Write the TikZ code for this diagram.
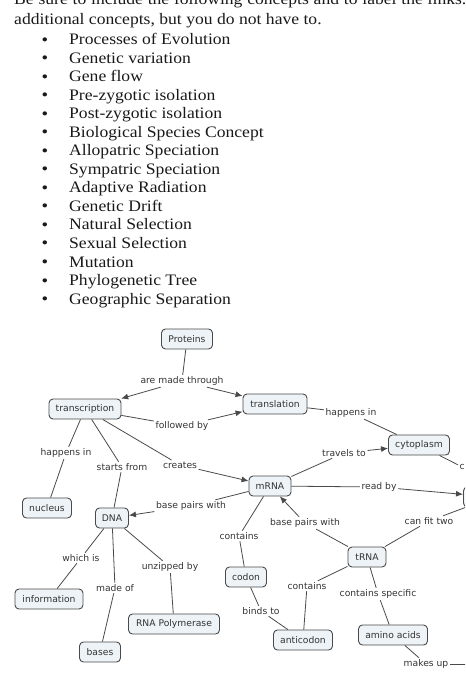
\documentclass[tikz,border=0pt]{standalone}
\usepackage{fontspec}
\setmainfont[FakeStretch=1.1]{Liberation Serif}
\newfontfamily\mapfont{DejaVu Sans}
\usetikzlibrary{arrows.meta}

\definecolor{conceptfill}{HTML}{EDF3F7}
\definecolor{linkgray}{HTML}{4A4A4A}

\begin{document}
\begin{tikzpicture}[x=1pt, y=-1pt,
    concept/.style={draw=linkgray, fill=conceptfill, rounded corners=4pt, line width=0.9pt, inner sep=0pt, minimum height=20pt, font=\mapfont\fontsize{9.2}{11}\selectfont, text=black!80},
    linklabel/.style={inner sep=1.5pt, font=\mapfont\fontsize{9.2}{11}\selectfont, text=black!80},
    link/.style={draw=linkgray, line width=0.8pt},
    arrow/.style={link, -{Latex[length=7pt, width=6pt]}},
    listtext/.style={anchor=base west, inner sep=0pt, font=\fontsize{16}{19}\selectfont, text=black!90}
]
    \useasboundingbox (0,0) rectangle (465,700);
    \clip (0,0) rectangle (465,700);

    % Assignment text
    \node[listtext] (intro) at (14,5) {\spaceskip=4.8pt\relax Be sure to include the following concepts and to label the links.};
    \node[listtext] (introb) at (14,25) {additional concepts, but you do not have to.};
    \foreach \entry [count=\i] in {Processes of Evolution, Genetic variation, Gene flow,
        Pre-zygotic isolation, Post-zygotic isolation, Biological Species Concept,
        Allopatric Speciation, Sympatric Speciation, Adaptive Radiation, Genetic Drift,
        Natural Selection, Sexual Selection, Mutation, Phylogenetic Tree, Geographic Separation} {
        \node[listtext, font=\fontsize{17}{17}\selectfont] (bullet\i) at (41.5,27+18.5*\i) {•};
        \node[listtext] (item\i) at (69,26.5+18.5*\i) {\entry};
    }

    % Concepts
    \node[concept, minimum width=51pt] (proteins) at (187,339) {Proteins};
    \node[concept, minimum width=72pt] (transcription) at (85,409) {transcription};
    \node[concept, minimum width=64pt] (translation) at (275,404) {translation};
    \node[concept, minimum width=61pt] (cytoplasm) at (419,445) {cytoplasm};
    \node[concept, minimum width=42pt] (mrna) at (270,486) {mRNA};
    \node[concept, minimum width=49pt] (nucleus) at (47,508) {nucleus};
    \node[concept, minimum width=33pt] (dna) at (112,518) {DNA};
    \node[concept, minimum width=68pt] (information) at (49,599) {information};
    \node[concept, minimum width=91pt] (polymerase) at (174,624) {RNA Polymerase};
    \node[concept, minimum width=41pt] (bases) at (100,652) {bases};
    \node[concept, minimum width=41pt] (codon) at (246,577) {codon};
    \node[concept, minimum width=38pt] (trna) at (367,557) {tRNA};
    \node[concept, minimum width=59pt] (anticodon) at (303,640) {anticodon};
    \node[concept, minimum width=69pt] (aminoacids) at (393,635) {amino acids};
    \node[concept, minimum width=60pt, anchor=west] (ribosome) at (463,497) {};

    % Link labels
    \node[linklabel] (madethrough) at (182,381) {are made through};
    \node[linklabel] (followedby) at (182,426) {followed by};
    \node[linklabel] (happensnuc) at (66,453) {happens in};
    \node[linklabel] (startsfrom) at (122,467) {starts from};
    \node[linklabel] (creates) at (180,465) {creates};
    \node[linklabel] (happenscyto) at (351,413) {happens in};
    \node[linklabel] (travelsto) at (344,453) {travels to};
    \node[linklabel] (readby) at (379,487) {read by};
    \node[linklabel] (pairsmrna) at (305,523) {base pairs with};
    \node[linklabel] (fittwo) at (429,521) {can fit two};
    \node[linklabel] (pairsdna) at (191,506) {base pairs with};
    \node[linklabel] (containscodon) at (239,536) {contains};
    \node[linklabel] (whichis) at (81,558) {which is};
    \node[linklabel] (unzippedby) at (170,567) {unzipped by};
    \node[linklabel] (madeof) at (115,588) {made of};
    \node[linklabel] (containsanti) at (307,586) {contains};
    \node[linklabel] (specific) at (378,594) {contains specific};
    \node[linklabel] (bindsto) at (261,611) {binds to};
    \node[linklabel] (makesup) at (426,664) {makes up};
    \node[linklabel, anchor=west] (cytolink) at (458,467) {c};
    \coordinate (offright) at (470,664);

    % Protein synthesis links
    \draw[link] (proteins) -- (madethrough);
    \draw[arrow] (madethrough) -- (transcription);
    \draw[arrow] (madethrough) -- (translation);
    \draw[link] (transcription) -- (followedby);
    \draw[arrow] (followedby) -- (translation);
    \draw[link] (transcription) -- (happensnuc);
    \draw[link] (happensnuc) -- (nucleus);
    \draw[link] (transcription) -- (startsfrom);
    \draw[link] (startsfrom) -- (dna);
    \draw[link] (transcription) -- (creates);
    \draw[arrow] (creates) -- (mrna);
    \draw[link] (translation) -- (happenscyto);
    \draw[link] (happenscyto) -- (cytoplasm);
    \draw[link] (cytoplasm) -- (cytolink);

    % mRNA links
    \draw[link] (mrna) -- (travelsto);
    \draw[arrow] (travelsto) -- (cytoplasm);
    \draw[link] (mrna) -- (readby);
    \draw[arrow] (readby) -- (ribosome);
    \draw[link] (mrna) -- (pairsdna);
    \draw[arrow] (pairsdna) -- (dna);
    \draw[link] (mrna) -- (containscodon);
    \draw[link] (containscodon) -- (codon);

    % DNA links
    \draw[link] (dna) -- (whichis);
    \draw[link] (whichis) -- (information);
    \draw[link] (dna) -- (madeof);
    \draw[link] (madeof) -- (bases);
    \draw[link] (dna) -- (unzippedby);
    \draw[link] (unzippedby) -- (polymerase);

    % tRNA links
    \draw[link] (trna) -- (pairsmrna);
    \draw[arrow] (pairsmrna) -- (mrna);
    \draw[link] (trna) -- (fittwo);
    \draw[link] (fittwo) -- (ribosome);
    \draw[link] (trna) -- (containsanti);
    \draw[link] (containsanti) -- (anticodon);
    \draw[link] (trna) -- (specific);
    \draw[link] (specific) -- (aminoacids);
    \draw[link] (codon) -- (bindsto);
    \draw[link] (bindsto) -- (anticodon);
    \draw[link] (aminoacids) -- (makesup);
    \draw[link] (makesup) -- (offright);
\end{tikzpicture}
\end{document}
